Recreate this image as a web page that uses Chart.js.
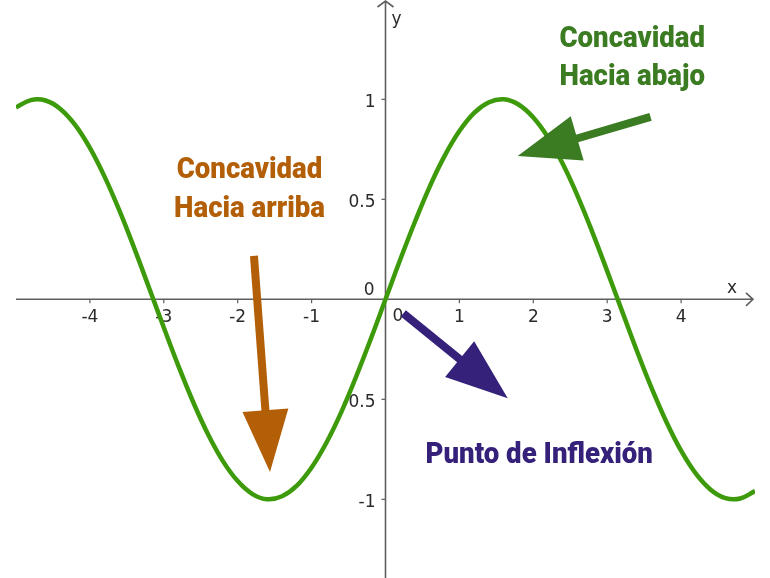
<!DOCTYPE html>
<html lang="es">
<head>
  <meta charset="UTF-8">
  <title>Concavidad de sen(x)</title>
  <script src="https://cdn.jsdelivr.net/npm/chart.js"></script>
  <style>
    html, body {
      margin: 0;
      background: #fff;
    }
    #wrap {
      width: 770px;
      height: 578px;
      position: relative;
    }
  </style>
</head>
<body>
  <div id="wrap"><canvas id="sineCanvas"></canvas></div>

  <script>
    // curve y = sen(x)
    const xValues = [-5.0, -4.8, -4.6, -4.4, -4.2, -4.0, -3.8, -3.6, -3.4, -3.2, -3.0,
                     -2.8, -2.6, -2.4, -2.2, -2.0, -1.8, -1.6, -1.4, -1.2, -1.0,
                     -0.8, -0.6, -0.4, -0.2, 0.0, 0.2, 0.4, 0.6, 0.8, 1.0,
                     1.2, 1.4, 1.6, 1.8, 2.0, 2.2, 2.4, 2.6, 2.8, 3.0,
                     3.2, 3.4, 3.6, 3.8, 4.0, 4.2, 4.4, 4.6, 4.8, 5.0];
    const yValues = [0.959, 0.996, 0.994, 0.952, 0.872, 0.757, 0.612, 0.443, 0.256, 0.058, -0.141,
                     -0.335, -0.516, -0.676, -0.809, -0.909, -0.974, -1.000, -0.985, -0.932, -0.841,
                     -0.717, -0.565, -0.389, -0.199, 0.000, 0.199, 0.389, 0.565, 0.717, 0.841,
                     0.932, 0.985, 1.000, 0.974, 0.909, 0.809, 0.676, 0.516, 0.335, 0.141,
                     -0.058, -0.256, -0.443, -0.612, -0.757, -0.872, -0.952, -0.994, -0.996, -0.959];

    // axes
    const xTicks = [-4, -3, -2, -1, 1, 2, 3, 4];
    const xTickLabels = ['-4', '-3', '-2', '-1', '1', '2', '3', '4'];
    const yTicks = [-1, -0.5, 0.5, 1];
    const yTickLabels = ['-1', '-0.5', '0.5', '1'];

    // arrows (tail -> tip), in graph units
    const arrowTailX = [-1.78, 3.586, 0.241];
    const arrowTailY = [0.217, 0.912, -0.07];
    const arrowTipX = [-1.563, 1.789, 1.654];
    const arrowTipY = [-0.864, 0.717, -0.495];

    // notes (centre x, baseline y), in graph units
    const noteText = ['Concavidad', 'Hacia arriba', 'Concavidad', 'Hacia abajo', 'Punto de Inflexión'];
    const noteX = [-1.84, -1.84, 3.339, 3.339, 2.08];
    const noteY = [0.6065, 0.4115, 1.2615, 1.0715, -0.817];

    const arrowColors = ['#b35f07', '#3b7b22', '#35207a'];
    const noteColors = ['#b35f07', '#b35f07', '#3b7b22', '#3b7b22', '#35207a'];

    const axesPlugin = {
      id: 'geoAxes',
      beforeDatasetsDraw(chart) {
        const { ctx, scales: { x, y }, chartArea: a } = chart;
        const ox = x.getPixelForValue(0);
        const oy = y.getPixelForValue(0);
        ctx.save();
        ctx.strokeStyle = '#5f5f5f';
        ctx.lineWidth = 1.6;
        ctx.beginPath();
        ctx.moveTo(a.left, oy);
        ctx.lineTo(a.right - 2, oy);
        ctx.moveTo(ox, a.bottom);
        ctx.lineTo(ox, a.top + 1);
        // arrow heads
        ctx.moveTo(a.right - 9, oy - 6.5);
        ctx.lineTo(a.right - 2, oy);
        ctx.lineTo(a.right - 9, oy + 6.5);
        ctx.moveTo(ox - 8, a.top + 7);
        ctx.lineTo(ox, a.top + 1);
        ctx.lineTo(ox + 8, a.top + 7);
        ctx.stroke();

        ctx.lineWidth = 1.2;
        ctx.beginPath();
        xTicks.forEach(v => {
          const px = x.getPixelForValue(v);
          ctx.moveTo(px, oy);
          ctx.lineTo(px, oy + 4);
        });
        yTicks.forEach(v => {
          const py = y.getPixelForValue(v);
          ctx.moveTo(ox, py);
          ctx.lineTo(ox - 4, py);
        });
        ctx.stroke();

        ctx.fillStyle = '#2a2a2a';
        ctx.font = '17px "DejaVu Sans"';
        ctx.textAlign = 'center';
        ctx.textBaseline = 'middle';
        xTicks.forEach((v, i) => {
          ctx.fillText(xTickLabels[i], x.getPixelForValue(v), oy + 18);
        });
        ctx.textAlign = 'right';
        yTicks.forEach((v, i) => {
          ctx.fillText(yTickLabels[i], ox - 10, y.getPixelForValue(v) + 3);
        });
        ctx.fillText('0', ox - 11, oy - 9);
        ctx.textAlign = 'left';
        ctx.fillText('0', ox + 7, oy + 17);
        ctx.fillText('x', a.right - 28, oy - 11);
        ctx.fillText('y', ox + 6, a.top + 20);
        ctx.restore();
      }
    };

    const notesPlugin = {
      id: 'notes',
      afterDatasetsDraw(chart) {
        const { ctx, scales: { x, y } } = chart;
        ctx.save();
        arrowTipX.forEach((_, i) => {
          const x0 = x.getPixelForValue(arrowTailX[i]);
          const y0 = y.getPixelForValue(arrowTailY[i]);
          const x1 = x.getPixelForValue(arrowTipX[i]);
          const y1 = y.getPixelForValue(arrowTipY[i]);
          const len = Math.hypot(x1 - x0, y1 - y0);
          const ux = (x1 - x0) / len, uy = (y1 - y0) / len;
          const headLen = 62, headHalf = 23;
          const bx = x1 - ux * headLen, by = y1 - uy * headLen;
          ctx.strokeStyle = arrowColors[i];
          ctx.fillStyle = arrowColors[i];
          ctx.lineWidth = 8;
          ctx.lineCap = 'butt';
          ctx.beginPath();
          ctx.moveTo(x0, y0);
          ctx.lineTo(bx + ux * 2, by + uy * 2);
          ctx.stroke();
          ctx.beginPath();
          ctx.moveTo(x1, y1);
          ctx.lineTo(bx - uy * headHalf, by + ux * headHalf);
          ctx.lineTo(bx + uy * headHalf, by - ux * headHalf);
          ctx.closePath();
          ctx.fill();
        });

        ctx.font = '900 30px Roboto';
        ctx.textAlign = 'center';
        ctx.textBaseline = 'alphabetic';
        noteText.forEach((t, i) => {
          const px = x.getPixelForValue(noteX[i]);
          const py = y.getPixelForValue(noteY[i]);
          ctx.save();
          ctx.translate(px, py);
          ctx.scale(0.92, 1);
          ctx.fillStyle = noteColors[i];
          ctx.fillText(t, 0, 0);
          ctx.restore();
        });
        ctx.restore();
      }
    };

    const ctx = document.getElementById('sineCanvas').getContext('2d');
    const chart = new Chart(ctx, {
      type: 'line',
      data: {
        datasets: [{
          label: 'sen(x)',
          data: xValues.map((v, i) => ({ x: v, y: yValues[i] })),
          borderColor: '#3d9a0a',
          borderWidth: 4.5,
          fill: false,
          tension: 0.4,
          pointRadius: 0
        }]
      },
      options: {
        animation: false,
        responsive: true,
        maintainAspectRatio: false,
        layout: { padding: { left: 16, right: 15, top: 0, bottom: 0 } },
        plugins: {
          legend: { display: false },
          tooltip: { enabled: false }
        },
        scales: {
          x: { type: 'linear', min: -5, max: 5, display: false },
          y: { type: 'linear', min: -1.3935, max: 1.4965, display: false }
        }
      },
      plugins: [axesPlugin, notesPlugin]
    });
  </script>
</body>
</html>
